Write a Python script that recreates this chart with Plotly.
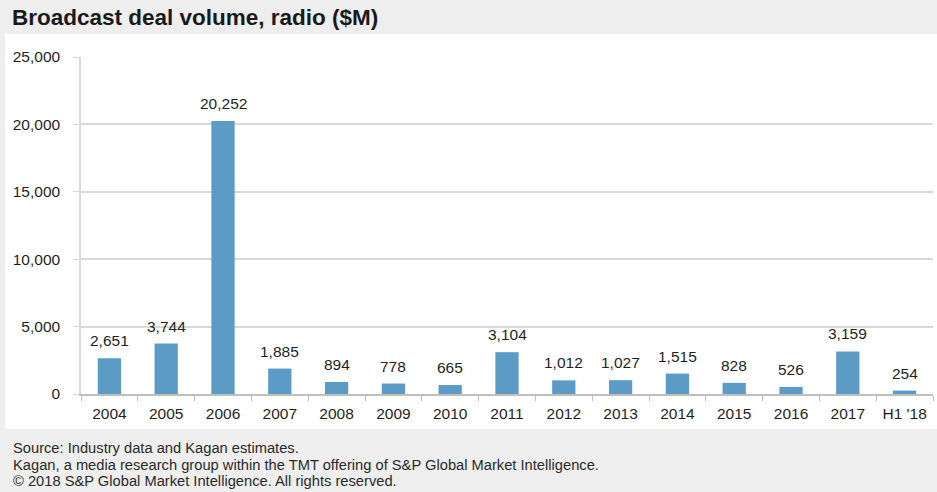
import plotly.graph_objects as go

categories = ["2004", "2005", "2006", "2007", "2008", "2009", "2010", "2011",
              "2012", "2013", "2014", "2015", "2016", "2017", "H1 '18"]
values = [2651, 3744, 20252, 1885, 894, 778, 665, 3104,
          1012, 1027, 1515, 828, 526, 3159, 254]
y_ticks = [0, 5000, 10000, 15000, 20000, 25000]

title_text = "Broadcast deal volume, radio ($M)"
footer_lines = [
    "Source: Industry data and Kagan estimates.",
    "Kagan, a media research group within the TMT offering of S&P Global Market Intelligence.",
    "\u00a9 2018 S&P Global Market Intelligence. All rights reserved.",
]

W, H = 937, 492
L, R, T, B = 81, 4, 57, 98
PW = W - L - R
PH = H - T - B

FONT = "Liberation Sans, Arial, Helvetica, sans-serif"
BAR = "#5b9bc6"
TXT = "#1f1f1f"

def px_x(x):
    return (x - L) / PW

def px_y(y):
    return (H - B - y) / PH

fig = go.Figure()
fig.add_trace(go.Bar(
    x=categories, y=values, width=0.41,
    marker=dict(color=BAR, line=dict(width=0)),
    hoverinfo="skip",
))

for i, v in enumerate(values):
    fig.add_annotation(
        x=i, y=v, xref="x", yref="y", text=f"{v:,}", showarrow=False,
        yanchor="bottom", yshift=7,
        font=dict(family=FONT, size=15.5, color=TXT),
    )

# white chart panel
fig.add_shape(type="rect", xref="paper", yref="paper",
              x0=px_x(5), x1=px_x(937), y0=px_y(429), y1=px_y(34),
              fillcolor="white", line=dict(width=0), layer="below")

for k, line in enumerate(footer_lines):
    fig.add_annotation(
        xref="paper", yref="paper", x=px_x(11), y=px_y(448 + 16.5 * k),
        xanchor="left", yanchor="middle", align="left", showarrow=False,
        text=line,
        font=dict(family=FONT, size=14.7, color="#2a2a2a"),
    )

fig.update_layout(
    width=W, height=H,
    margin=dict(l=L, r=R, t=T, b=B, autoexpand=False),
    paper_bgcolor="#eeeeee", plot_bgcolor="rgba(0,0,0,0)",
    showlegend=False,
    title=dict(text=f"<b>{title_text}</b>", xref="container", yref="container",
               x=12 / W, y=1 - 17 / H, xanchor="left", yanchor="middle",
               font=dict(family=FONT, size=22.5, color="#1a1a1a")),
    xaxis=dict(
        type="category", categoryorder="array", categoryarray=categories,
        range=[-0.5, len(categories) - 0.5], automargin=False, tickangle=0,
        showgrid=False, showline=True, linecolor="#bfbfbf", linewidth=1.5,
        ticks="outside", tickson="boundaries", ticklen=5, tickcolor="#bfbfbf",
        ticklabelstandoff=5,
        tickfont=dict(family=FONT, size=15.5, color=TXT),
    ),
    yaxis=dict(
        range=[0, 25000], tickvals=y_ticks, tickformat=",", automargin=False,
        showgrid=True, gridcolor="#d9d9d9", gridwidth=1.5,
        showline=True, linecolor="#d9d9d9", linewidth=1.5,
        ticks="outside", ticklen=6, tickcolor="#d9d9d9", zeroline=False,
        ticklabelstandoff=10,
        tickfont=dict(family=FONT, size=15.5, color=TXT),
    ),
)

fig.write_html("out.html", config={"displayModeBar": False},
               post_script="document.body.style.margin='0';document.body.style.overflow='hidden';")
